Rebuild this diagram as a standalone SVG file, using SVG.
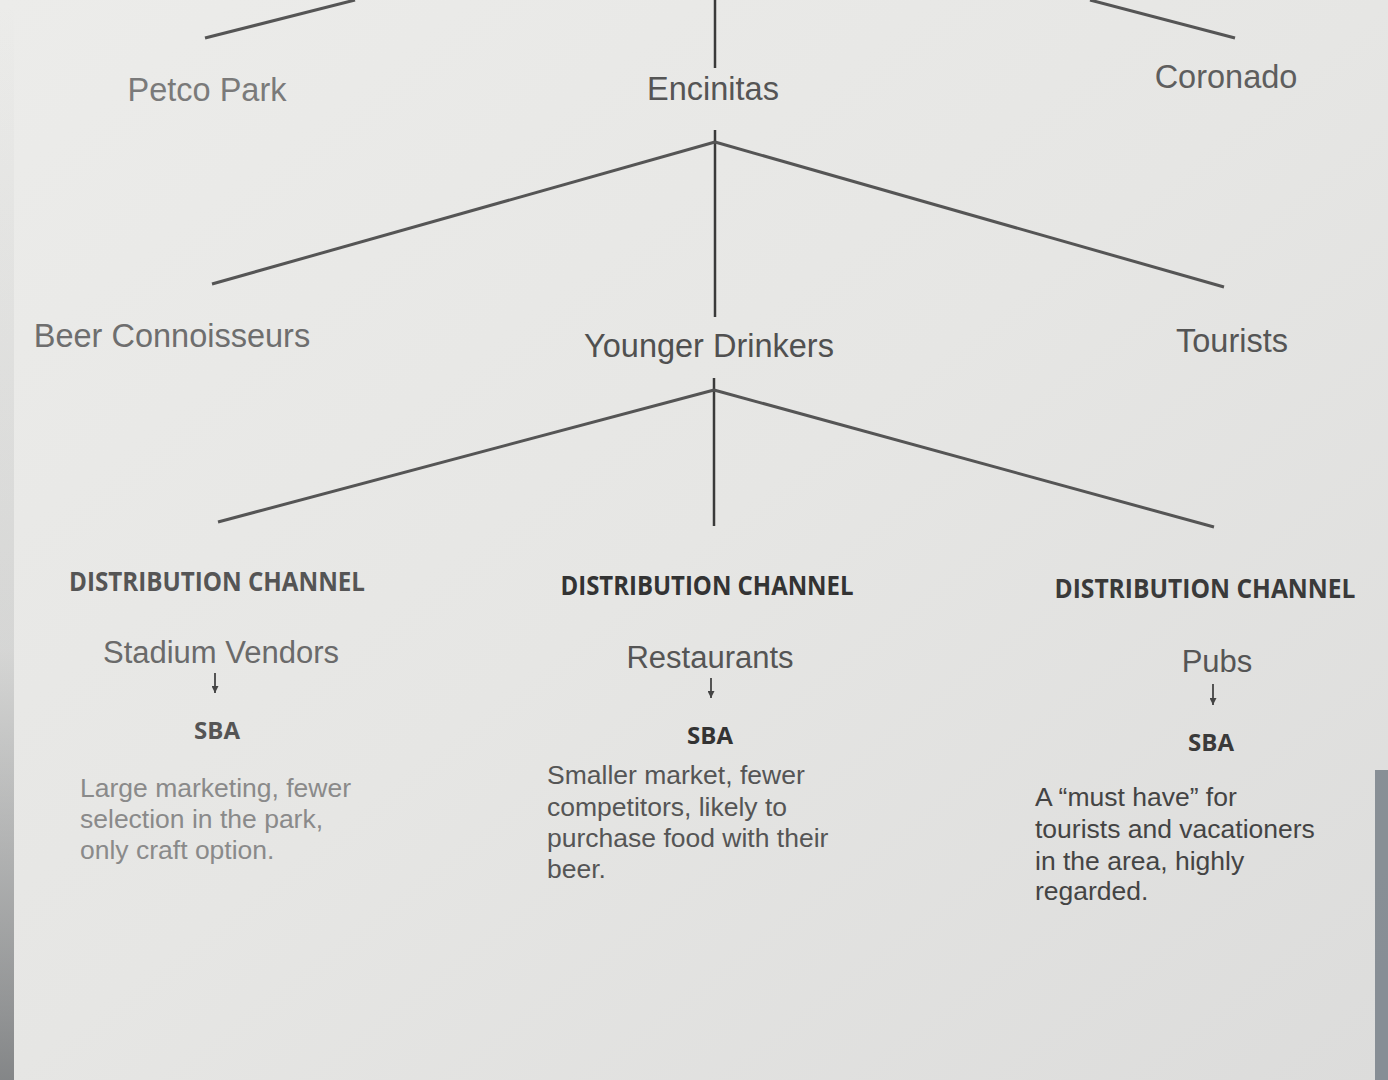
<svg xmlns="http://www.w3.org/2000/svg" width="1388" height="1080" viewBox="0 0 1388 1080">
<defs>
<linearGradient id="bg" x1="0" y1="0" x2="1" y2="1">
<stop offset="0" stop-color="#ececea"/>
<stop offset="0.5" stop-color="#e6e6e4"/>
<stop offset="1" stop-color="#dcdcdb"/>
</linearGradient>
<linearGradient id="edgeL" x1="0" y1="0" x2="0" y2="1">
<stop offset="0" stop-color="#6a6d70" stop-opacity="0"/>
<stop offset="0.6" stop-color="#6a6d70" stop-opacity="0.15"/>
<stop offset="1" stop-color="#5a5d60" stop-opacity="0.7"/>
</linearGradient>
<marker id="arr" viewBox="0 0 10 10" refX="10" refY="5" markerWidth="8" markerHeight="7" orient="auto" markerUnits="userSpaceOnUse">
<path d="M0,0 L10,5 L0,10 z" fill="#444"/>
</marker>
</defs>
<style>
.lbl{font-family:"Liberation Sans",Arial,sans-serif;font-size:32.5px;text-anchor:middle}
.dc{font-family:"Open Sans","Noto Sans",sans-serif;font-weight:bold;font-size:27px;text-anchor:middle}
.sba{font-family:"Open Sans","Noto Sans",sans-serif;font-weight:bold;font-size:24px;text-anchor:middle}
.ch{font-family:"Liberation Sans",Arial,sans-serif;font-size:31px;text-anchor:middle}
.desc{font-family:"Liberation Sans",Arial,sans-serif;font-size:26.5px}
.ln{stroke:#555;stroke-width:3;fill:none}
.vl{stroke:#3a3a3a;stroke-width:2.5;fill:none}
.ar{stroke:#444;stroke-width:1.8;fill:none}
</style>
<rect width="1388" height="1080" fill="url(#bg)"/>
<rect x="0" y="0" width="14" height="1080" fill="url(#edgeL)"/>
<rect x="1375" y="770" width="13" height="310" fill="#4f5a66" opacity="0.6"/>

<g id="connectors">
<line class="ln" x1="205" y1="38" x2="355" y2="0" stroke="#808080"/>
<line class="vl" x1="715" y1="0" x2="715" y2="68"/>
<line class="ln" x1="1090" y1="0" x2="1235" y2="38" stroke="#808080"/>

<line class="vl" x1="715" y1="130" x2="715" y2="317"/>
<line class="ln" x1="715" y1="142" x2="212" y2="284"/>
<line class="ln" x1="715" y1="142" x2="1224" y2="287"/>

<line class="vl" x1="714" y1="378" x2="714" y2="526"/>
<line class="ln" x1="714" y1="390" x2="218" y2="522"/>
<line class="ln" x1="714" y1="390" x2="1214" y2="527"/>

<line class="ar" x1="215" y1="673" x2="215" y2="693" marker-end="url(#arr)"/>
<line class="ar" x1="711" y1="678" x2="711" y2="698" marker-end="url(#arr)"/>
<line class="ar" x1="1213" y1="684" x2="1213" y2="705" marker-end="url(#arr)"/>
</g>

<g id="petco-park"><text class="lbl" x="207" y="101" fill="#7a7a7a">Petco Park</text></g>
<g id="encinitas"><text class="lbl" x="713" y="100" fill="#555">Encinitas</text></g>
<g id="coronado"><text class="lbl" x="1226" y="88" fill="#5e5e5e">Coronado</text></g>

<g id="beer-connoisseurs"><text class="lbl" x="172" y="347" fill="#6e6e6e">Beer Connoisseurs</text></g>
<g id="younger-drinkers"><text class="lbl" x="709" y="357" fill="#505050">Younger Drinkers</text></g>
<g id="tourists"><text class="lbl" x="1232" y="352" fill="#555">Tourists</text></g>

<g id="channel-left">
<text class="dc" x="217" y="591" fill="#555" textLength="296" lengthAdjust="spacingAndGlyphs">DISTRIBUTION CHANNEL</text>
<text class="ch" x="221" y="663" fill="#6a6a6a">Stadium Vendors</text>
<text class="sba" x="217" y="739" fill="#555">SBA</text>
<text class="desc" x="80" y="797" fill="#8a8a8a">Large marketing, fewer</text>
<text class="desc" x="80" y="828" fill="#8a8a8a" font-size="25">selection in the park,</text>
<text class="desc" x="80" y="859" fill="#8a8a8a" font-size="25">only craft option.</text>
</g>

<g id="channel-center">
<text class="dc" x="707" y="595" fill="#333" textLength="293" lengthAdjust="spacingAndGlyphs">DISTRIBUTION CHANNEL</text>
<text class="ch" x="710" y="668" fill="#555">Restaurants</text>
<text class="sba" x="710" y="744" fill="#333">SBA</text>
<text class="desc" x="547" y="784" fill="#555">Smaller market, fewer</text>
<text class="desc" x="547" y="816" fill="#555">competitors, likely to</text>
<text class="desc" x="547" y="847" fill="#555">purchase food with their</text>
<text class="desc" x="547" y="878" fill="#555">beer.</text>
</g>

<g id="channel-right">
<text class="dc" x="1205" y="598" fill="#3a3a3a" textLength="301" lengthAdjust="spacingAndGlyphs">DISTRIBUTION CHANNEL</text>
<text class="ch" x="1217" y="672" fill="#555">Pubs</text>
<text class="sba" x="1211" y="751" fill="#3a3a3a">SBA</text>
<text class="desc" x="1035" y="806" fill="#444" font-size="28">A “must have” for</text>
<text class="desc" x="1035" y="838" fill="#444" font-size="28">tourists and vacationers</text>
<text class="desc" x="1035" y="870" fill="#444" font-size="28">in the area, highly</text>
<text class="desc" x="1035" y="900" fill="#444" font-size="28">regarded.</text>
</g>
</svg>
